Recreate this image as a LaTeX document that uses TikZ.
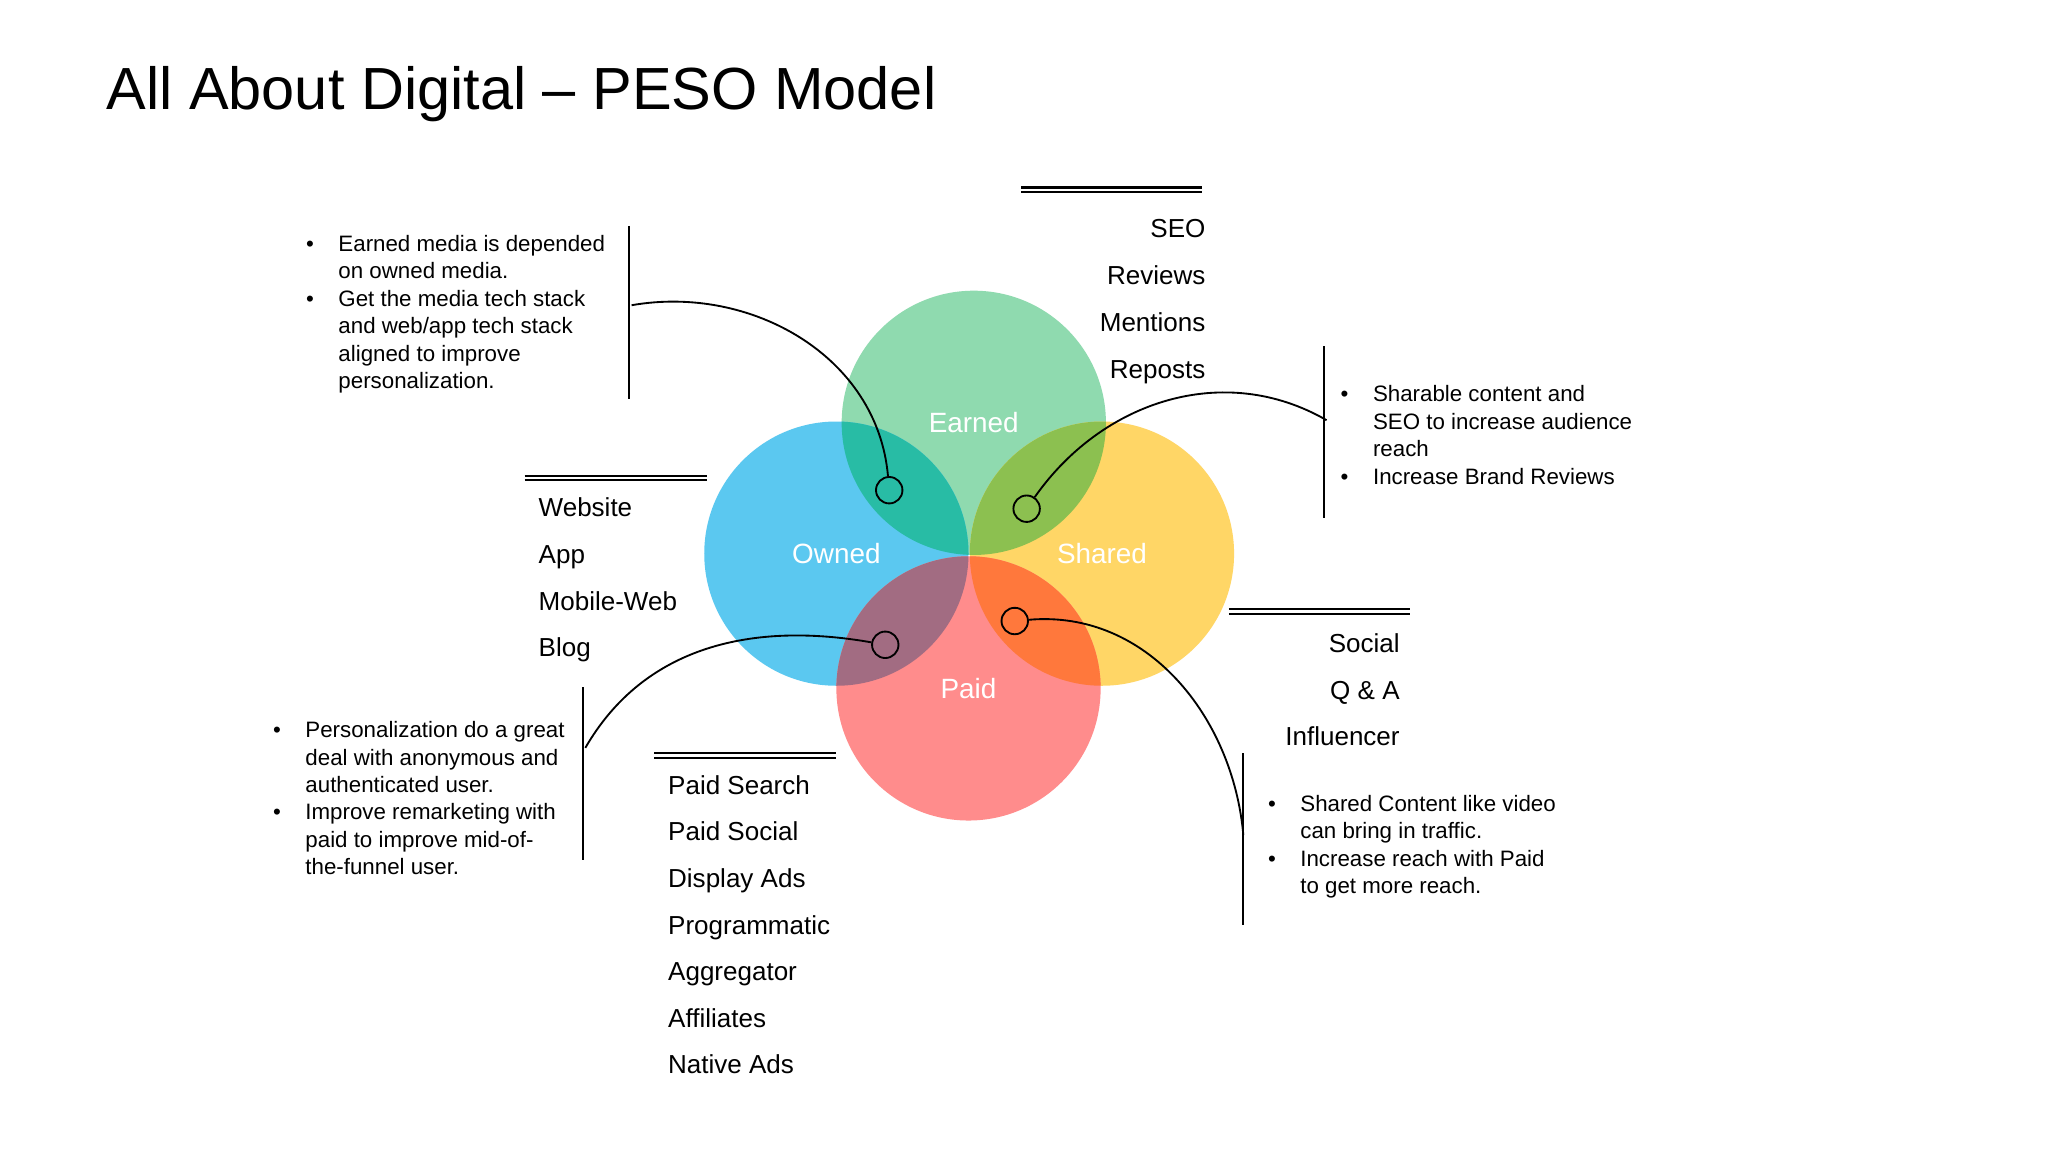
\documentclass[tikz,border=0pt]{standalone}
\usepackage{fontspec}
\setmainfont{Liberation Sans}
\usetikzlibrary{positioning}
\definecolor{earnedgreen}{RGB}{143,218,175}
\definecolor{ownedblue}{RGB}{91,200,240}
\definecolor{sharedyellow}{RGB}{255,214,102}
\definecolor{paidred}{RGB}{255,140,140}
\definecolor{eoteal}{RGB}{40,188,165}
\definecolor{esgreen}{RGB}{140,192,80}
\definecolor{opmauve}{RGB}{162,108,130}
\definecolor{sporange}{RGB}{255,120,60}
\tikzset{
  circlabel/.style={text=white, font=\fontsize{6}{7}\selectfont},
  listitem/.style={font=\fontsize{5.6}{6.6}\selectfont, inner sep=0pt},
  bullets/.style={font=\fontsize{4.8}{5.9}\selectfont, inner sep=0pt, anchor=north west},
  hotspot/.style={circle, draw=black, thin, minimum size=0.2cm, inner sep=0pt},
  doubleline/.style={draw=black, line width=0.5pt},
}
\newcommand{\bl}{\textbullet}
\begin{document}
\begin{tikzpicture}[x=0.01cm, y=-0.01cm]
    \useasboundingbox[fill=white] (0,0) rectangle (1550,872);
    % Title
    \node[anchor=base west, inner sep=0pt, font=\fontsize{12.8}{14}\selectfont] (title) at (80,83) {All About Digital -- PESO Model};

    % Circles
    \fill[earnedgreen] (737,320) circle (100);
    \fill[ownedblue] (633,419) circle (100);
    \fill[sharedyellow] (834,419) circle (100);
    \fill[paidred] (733,521) circle (100);
    % Overlaps
    \begin{scope}
        \clip (737,320) circle (100);
        \fill[eoteal] (633,419) circle (100);
        \fill[esgreen] (834,419) circle (100);
    \end{scope}
    \begin{scope}
        \clip (733,521) circle (100);
        \fill[opmauve] (633,419) circle (100);
        \fill[sporange] (834,419) circle (100);
    \end{scope}
    \node[circlabel] (earned) at (737,320) {Earned};
    \node[circlabel] (owned) at (633,419) {Owned};
    \node[circlabel] (shared) at (834,419) {Shared};
    \node[circlabel] (paid) at (733,521) {Paid};

    % Double rules
    \foreach \xa/\xb/\yy in {773/910/142, 397/535/360, 930/1067/461, 495/633/570} {
        \draw[doubleline] (\xa,\yy) -- (\xb,\yy);
        \draw[doubleline] (\xa,\yy+3.5) -- (\xb,\yy+3.5);
    }

    % Earned list
    \foreach \t [count=\i from 0] in {SEO, Reviews, Mentions, Reposts}
        \node[listitem, anchor=base east] (earned\i) at (913,180+35.4*\i) {\t};
    % Owned list
    \foreach \t [count=\i from 0] in {Website, App, Mobile-Web, Blog}
        \node[listitem, anchor=base west] (owned\i) at (407,391+35.4*\i) {\t};
    % Shared list
    \foreach \t [count=\i from 0] in {Social, Q \& A, Influencer}
        \node[listitem, anchor=base east] (shared\i) at (1060,494+35.2*\i) {\t};
    % Paid list
    \foreach \t [count=\i from 0] in {Paid Search, Paid Social, Display Ads, Programmatic, Aggregator, Affiliates, Native Ads}
        \node[listitem, anchor=base west] (paid\i) at (505,601+35.3*\i) {\t};

    % Notes
    \node[bullets] (noteA) at (231,175) {\begin{tabular}{@{}l@{\hspace{1.1em}}l@{}}
        \bl & Earned media is depended\\ & on owned media.\\
        \bl & Get the media tech stack\\ & and web/app tech stack\\ & aligned to improve\\ & personalization.\end{tabular}};
    \node[bullets] (noteB) at (1014,289) {\begin{tabular}{@{}l@{\hspace{1.1em}}l@{}}
        \bl & Sharable content and\\ & SEO to increase audience\\ & reach\\
        \bl & Increase Brand Reviews\end{tabular}};
    \node[bullets] (noteC) at (206,543) {\begin{tabular}{@{}l@{\hspace{1.1em}}l@{}}
        \bl & Personalization do a great\\ & deal with anonymous and\\ & authenticated user.\\
        \bl & Improve remarketing with\\ & paid to improve mid-of-\\ & the-funnel user.\end{tabular}};
    \node[bullets] (noteD) at (959,599) {\begin{tabular}{@{}l@{\hspace{1.1em}}l@{}}
        \bl & Shared Content like video\\ & can bring in traffic.\\
        \bl & Increase reach with Paid\\ & to get more reach.\end{tabular}};

    % Note bars
    \coordinate (barAtop) at (476,171); \coordinate (barAbot) at (476,302);
    \coordinate (barBtop) at (1002,262); \coordinate (barBbot) at (1002,392);
    \coordinate (barCtop) at (441,520); \coordinate (barCbot) at (441,651);
    \coordinate (barDtop) at (941,570); \coordinate (barDbot) at (941,700);
    \draw[thin] (barAtop) -- (barAbot);
    \draw[thin] (barBtop) -- (barBbot);
    \draw[thin] (barCtop) -- (barCbot);
    \draw[thin] (barDtop) -- (barDbot);

    % Hotspots and connectors
    \node[hotspot] (spotEO) at (673,371) {};
    \node[hotspot] (spotES) at (777,385) {};
    \node[hotspot] (spotOP) at (670,488) {};
    \node[hotspot] (spotSP) at (768,470) {};
    \coordinate (endA) at (478,231);
    \coordinate (endB) at (1004,318);
    \coordinate (endC) at (443,566);
    \coordinate (endD) at (941,632);
    \draw[thin] (endA) to[out=10, in=95] (spotEO);
    \draw[thin] (endB) to[out=150, in=55] (spotES);
    \draw[thin] (endC) to[out=60, in=170] (spotOP);
    \draw[thin] (spotSP) to[out=5, in=95] (endD);
\end{tikzpicture}
\end{document}
